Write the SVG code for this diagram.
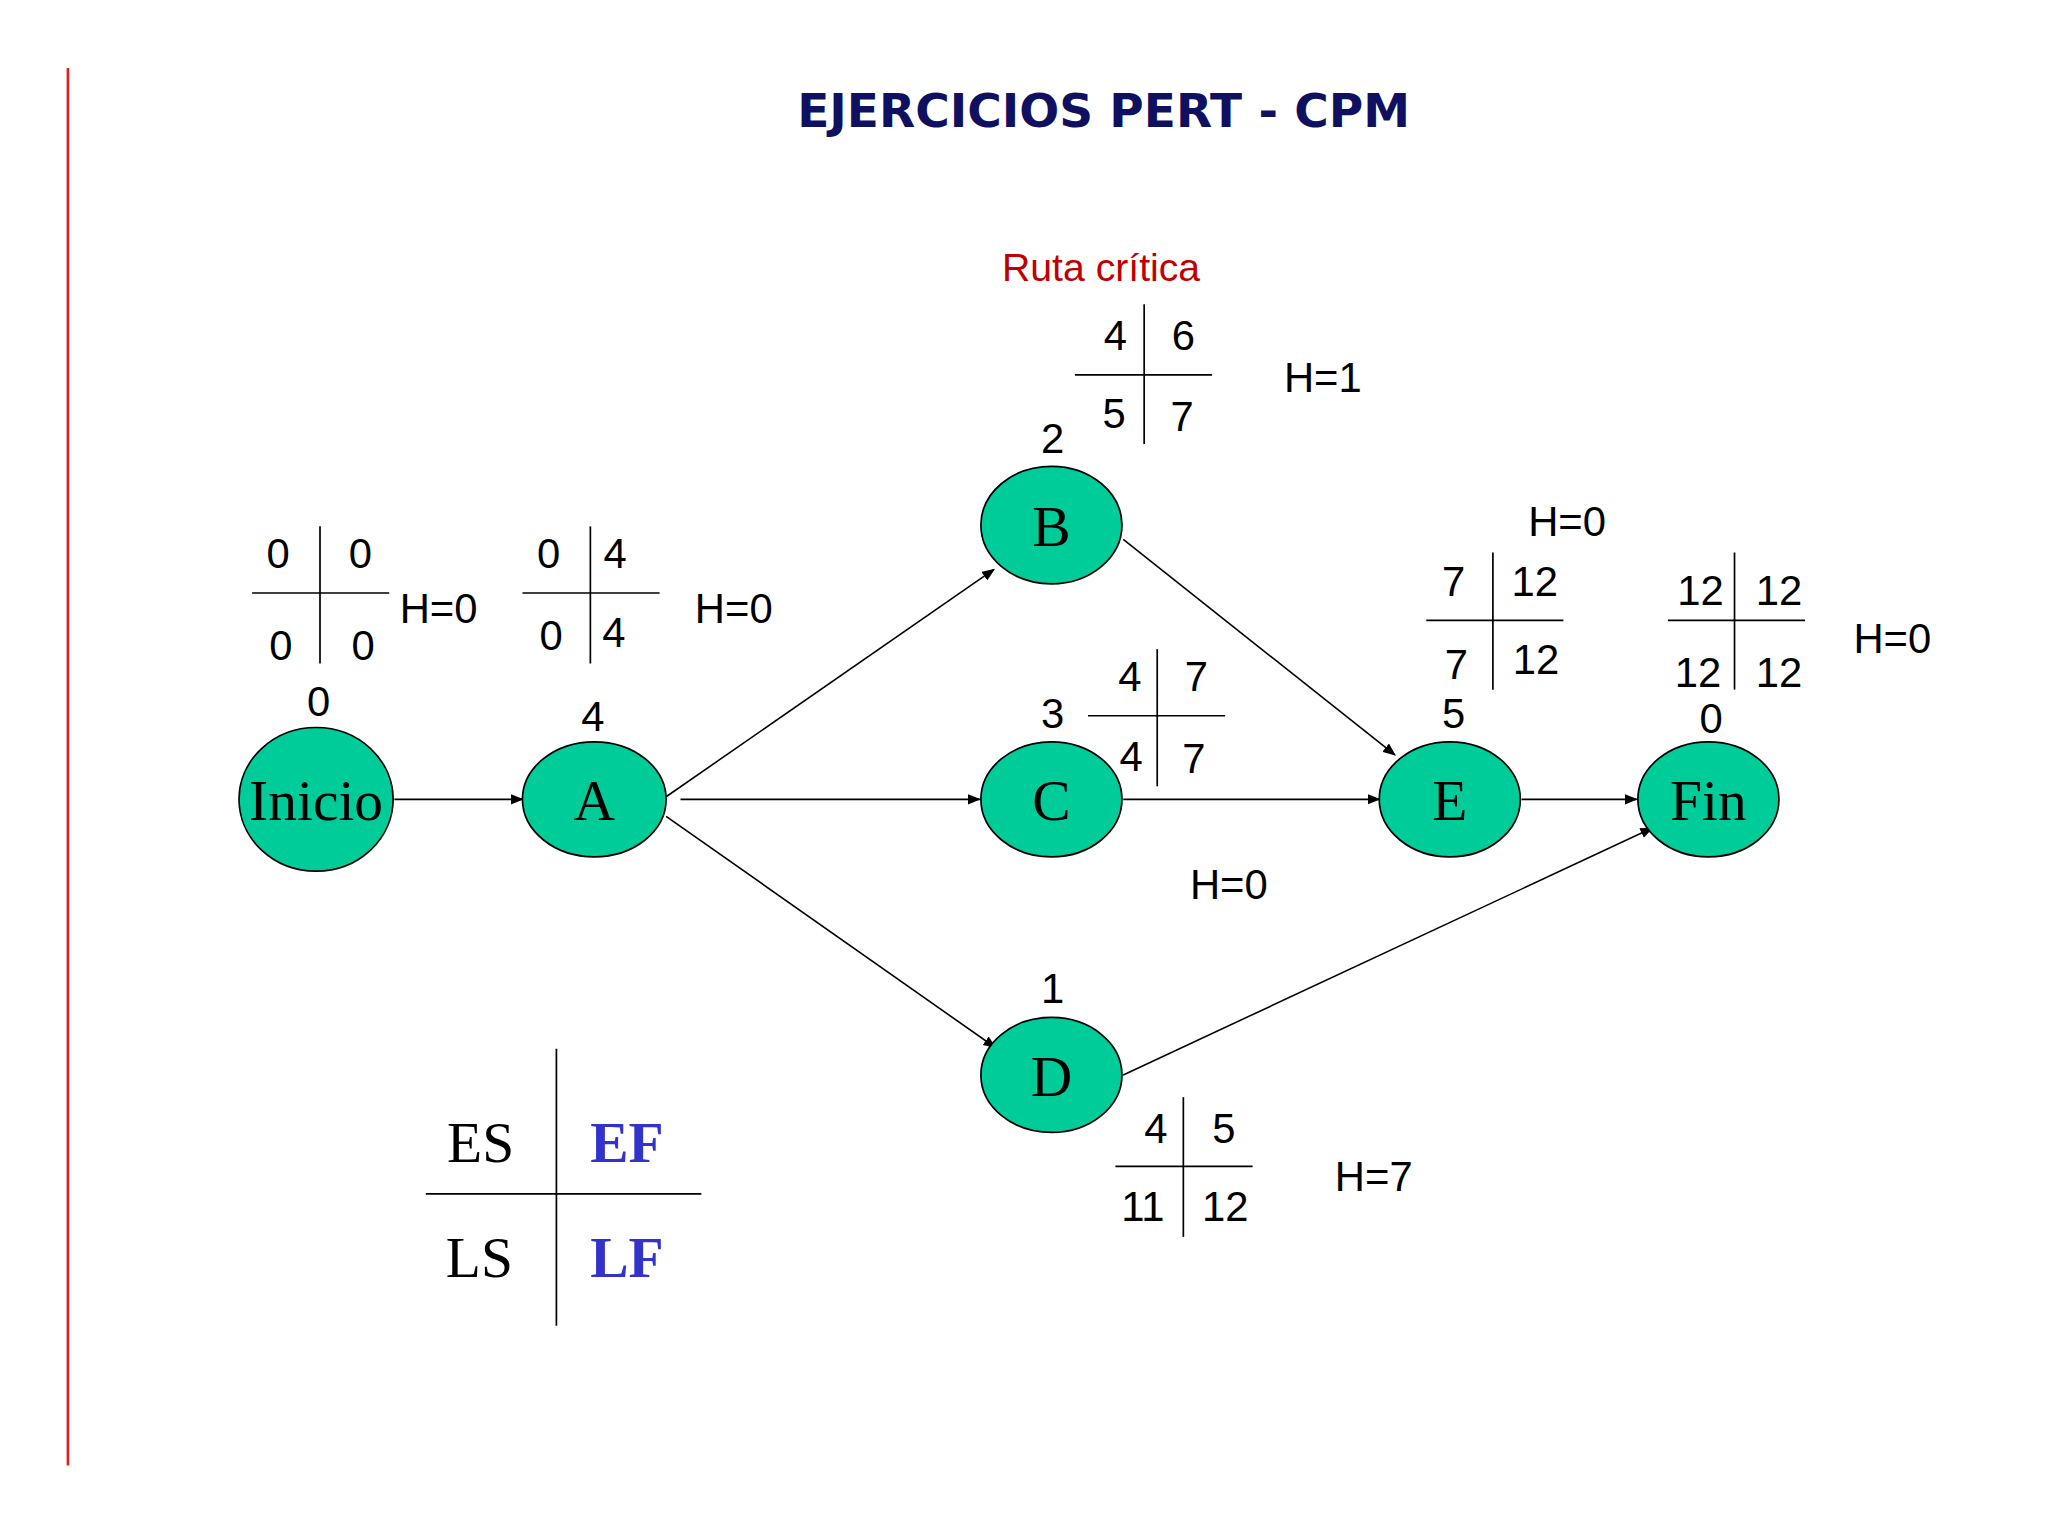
<svg xmlns="http://www.w3.org/2000/svg" width="2048" height="1536" viewBox="0 0 2048 1536">
<defs>
<marker id="ah" markerWidth="10" markerHeight="8" refX="9" refY="4" orient="auto" markerUnits="userSpaceOnUse"><path d="M0,0 L10,4 L0,8 z" fill="#000"/></marker>
<style>
.n{fill:#00cc99;stroke:#000;stroke-width:1.3}
.nl{font-family:"Liberation Serif",serif;font-size:44px;text-anchor:middle}
.t{font-family:"Liberation Sans",sans-serif;font-size:32px;text-anchor:middle}
.h{font-family:"Liberation Sans",sans-serif;font-size:32px}
.g{stroke:#000;stroke-width:1.3}
.c{stroke:#000;stroke-width:1.2;fill:none;marker-end:url(#ah)}
</style>
</defs>
<rect width="2048" height="1536" fill="#fff"/>
<g transform="scale(1.30612)">
<line x1="52" y1="52" x2="52" y2="1122" stroke="#e02020" stroke-width="2"/>
<text x="845" y="97" text-anchor="middle" font-family="DejaVu Sans,sans-serif" font-weight="bold" font-size="36" fill="#101060">EJERCICIOS PERT - CPM</text>
<text x="843" y="215" text-anchor="middle" font-family="Liberation Sans,sans-serif" font-size="30" fill="#c00000">Ruta crítica</text>
<g id="connectors">
<line class="c" x1="302" y1="612" x2="400" y2="612"/>
<line class="c" x1="510" y1="610" x2="761" y2="436"/>
<line class="c" x1="521" y1="612" x2="750" y2="612"/>
<line class="c" x1="510" y1="625" x2="762" y2="802"/>
<line class="c" x1="860" y1="413" x2="1068" y2="578"/>
<line class="c" x1="860" y1="612" x2="1056" y2="612"/>
<line class="c" x1="1165" y1="612" x2="1253" y2="612"/>
<line class="c" x1="860" y1="823" x2="1265" y2="634"/>
</g>
<g id="inicio">
<ellipse class="n" cx="242" cy="612" rx="59" ry="55"/>
<text class="nl" x="242" y="628">Inicio</text>
<text class="t" x="244" y="548">0</text>
<line class="g" x1="245" y1="403" x2="245" y2="508"/><line class="g" x1="193" y1="454" x2="298" y2="454"/>
<text class="t" x="213" y="435">0</text><text class="t" x="276" y="435">0</text><text class="t" x="215" y="505">0</text><text class="t" x="278" y="505">0</text>
<text class="h" x="306" y="477">H=0</text>
</g>
<g id="A">
<ellipse class="n" cx="455" cy="612" rx="55" ry="44"/>
<text class="nl" x="455" y="628">A</text>
<text class="t" x="454" y="560">4</text>
<line class="g" x1="452" y1="403" x2="452" y2="508"/><line class="g" x1="400" y1="454" x2="505" y2="454"/>
<text class="t" x="420" y="435">0</text><text class="t" x="471" y="435">4</text><text class="t" x="422" y="498">0</text><text class="t" x="470" y="495">4</text>
<text class="h" x="532" y="477">H=0</text>
</g>
<g id="B">
<ellipse class="n" cx="805" cy="402" rx="54" ry="45"/>
<text class="nl" x="805" y="418">B</text>
<text class="t" x="806" y="347">2</text>
<line class="g" x1="876" y1="233" x2="876" y2="340"/><line class="g" x1="823" y1="287" x2="928" y2="287"/>
<text class="t" x="854" y="268">4</text><text class="t" x="906" y="268">6</text><text class="t" x="853" y="328">5</text><text class="t" x="905" y="330">7</text>
<text class="h" x="983" y="300">H=1</text>
</g>
<g id="C">
<ellipse class="n" cx="805" cy="612" rx="54" ry="44"/>
<text class="nl" x="805" y="628">C</text>
<text class="t" x="806" y="557">3</text>
<line class="g" x1="886" y1="497" x2="886" y2="602"/><line class="g" x1="833" y1="548" x2="938" y2="548"/>
<text class="t" x="865" y="529">4</text><text class="t" x="916" y="529">7</text><text class="t" x="866" y="590">4</text><text class="t" x="914" y="592">7</text>
<text class="h" x="911" y="688">H=0</text>
</g>
<g id="D">
<ellipse class="n" cx="805" cy="823" rx="54" ry="44"/>
<text class="nl" x="805" y="839">D</text>
<text class="t" x="806" y="768">1</text>
<line class="g" x1="906" y1="840" x2="906" y2="947"/><line class="g" x1="854" y1="893" x2="959" y2="893"/>
<text class="t" x="885" y="875">4</text><text class="t" x="937" y="875">5</text><text class="t" x="875" y="935">11</text><text class="t" x="938" y="935">12</text>
<text class="h" x="1022" y="912">H=7</text>
</g>
<g id="E">
<ellipse class="n" cx="1110" cy="612" rx="54" ry="44"/>
<text class="nl" x="1110" y="628">E</text>
<text class="t" x="1113" y="557">5</text>
<line class="g" x1="1143" y1="423" x2="1143" y2="528"/><line class="g" x1="1092" y1="475" x2="1197" y2="475"/>
<text class="t" x="1113" y="456">7</text><text class="t" x="1175" y="456">12</text><text class="t" x="1115" y="520">7</text><text class="t" x="1176" y="516">12</text>
<text class="h" x="1170" y="410">H=0</text>
</g>
<g id="Fin">
<ellipse class="n" cx="1308" cy="612" rx="54" ry="44"/>
<text class="nl" x="1308" y="628">Fin</text>
<text class="t" x="1310" y="561">0</text>
<line class="g" x1="1328" y1="423" x2="1328" y2="528"/><line class="g" x1="1277" y1="475" x2="1382" y2="475"/>
<text class="t" x="1302" y="463">12</text><text class="t" x="1362" y="463">12</text><text class="t" x="1300" y="526">12</text><text class="t" x="1362" y="526">12</text>
<text class="h" x="1419" y="500">H=0</text>
</g>
<g id="legend">
<line class="g" x1="426" y1="803" x2="426" y2="1015"/><line class="g" x1="326" y1="914" x2="537" y2="914"/>
<text class="nl" x="368" y="890">ES</text>
<text class="nl" x="480" y="890" font-weight="bold" fill="#3333cc">EF</text>
<text class="nl" x="367" y="978">LS</text>
<text class="nl" x="480" y="978" font-weight="bold" fill="#3333cc">LF</text>
</g>
</g>
</svg>
